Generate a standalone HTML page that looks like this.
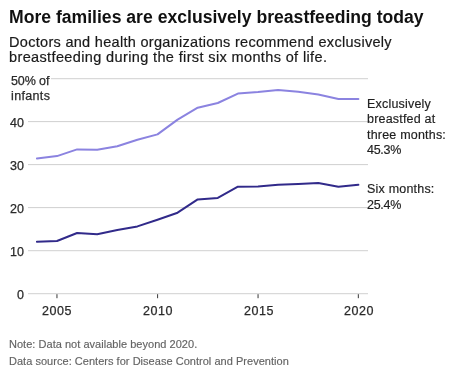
<!DOCTYPE html>
<html><head><meta charset="utf-8">
<style>
html,body{margin:0;padding:0;background:#fff;}
body{width:466px;height:373px;position:relative;overflow:hidden;font-family:"Liberation Sans",sans-serif;}
.t{position:absolute;white-space:nowrap;line-height:1;will-change:transform;}
#title{left:8.7px;top:8.7px;font-size:17.6px;font-weight:bold;color:#111;}
#sub1{left:9px;top:34.9px;font-size:14.5px;letter-spacing:0.3px;color:#1a1a1a;-webkit-text-stroke:0.2px #1a1a1a;}
#sub2{left:9px;top:49.5px;font-size:14.5px;letter-spacing:0.37px;color:#1a1a1a;-webkit-text-stroke:0.2px #1a1a1a;}
.ax{font-size:12.5px;color:#2a2a2a;-webkit-text-stroke:0.25px #2a2a2a;}
.yr{text-align:right;width:40px;}
.xc{text-align:center;width:60px;letter-spacing:0.5px;}
.lab{font-size:12.5px;color:#1f1f1f;letter-spacing:0.2px;-webkit-text-stroke:0.18px #1f1f1f;}
.pct{letter-spacing:-0.3px;}
.foot{font-size:11px;color:#636363;letter-spacing:0.03px;-webkit-text-stroke:0.15px #636363;}
svg{position:absolute;left:0;top:0;}
</style></head><body>
<div class="t" id="title">More families are exclusively breastfeeding today</div>
<div class="t" id="sub1">Doctors and health organizations recommend exclusively</div>
<div class="t" id="sub2">breastfeeding during the first six months of life.</div>

<svg width="466" height="373" viewBox="0 0 466 373">
  <g fill="#d0d0d0">
    <rect x="51" y="78.2" width="317" height="1"/>
    <rect x="28" y="121.1" width="340" height="1"/>
    <rect x="28" y="164.1" width="340" height="1"/>
    <rect x="28" y="207.1" width="340" height="1"/>
    <rect x="28" y="250.2" width="340" height="1"/>
    <rect x="28" y="293.2" width="340" height="1"/>
  </g>
  <g fill="#4a4a4a">
    <rect x="56.4" y="294.2" width="1.1" height="4"/>
    <rect x="157" y="294.2" width="1.1" height="4"/>
    <rect x="257.5" y="294.2" width="1.1" height="4"/>
    <rect x="357.8" y="294.2" width="1.1" height="4"/>
  </g>
  <polyline fill="none" stroke="#8b83e0" stroke-width="2" stroke-linejoin="round" stroke-linecap="round"
    points="36.9,158.4 57,156.1 77.1,149.4 97.2,149.8 117.3,146.2 137.4,139.8 157.5,134.4 177.6,119.6 197.7,107.7 217.8,103.0 237.9,93.6 258,92.1 278.1,89.9 298.2,91.8 318.3,94.5 338.4,98.9 358.4,99.0"/>
  <polyline fill="none" stroke="#312a8a" stroke-width="2" stroke-linejoin="round" stroke-linecap="round"
    points="36.9,241.7 57,241 77.1,233 97.2,234.3 117.3,230.1 137.4,226.4 157.5,219.7 177.6,212.7 197.7,199.4 217.8,197.9 237.9,186.7 258,186.4 278.1,184.7 298.2,183.9 318.3,182.9 338.4,186.7 358.4,184.8"/>
</svg>

<div class="t ax" id="y50a" style="left:11px;top:74.6px;letter-spacing:-0.1px;">50% of</div>
<div class="t ax" id="y50b" style="left:11px;top:89.8px;letter-spacing:0.35px;">infants</div>
<div class="t ax yr" id="y40" style="left:-16px;top:117px;">40</div>
<div class="t ax yr" id="y30" style="left:-16px;top:160px;">30</div>
<div class="t ax yr" id="y20" style="left:-16px;top:203px;">20</div>
<div class="t ax yr" id="y10" style="left:-16px;top:246px;">10</div>
<div class="t ax yr" id="y0" style="left:-16px;top:289px;">0</div>

<div class="t ax xc" id="x2005" style="left:27px;top:305.0px;">2005</div>
<div class="t ax xc" id="x2010" style="left:128.3px;top:305.0px;">2010</div>
<div class="t ax xc" id="x2015" style="left:228.5px;top:305.0px;">2015</div>
<div class="t ax xc" id="x2020" style="left:329.1px;top:304.9px;">2020</div>

<div class="t lab" id="l1" style="left:367.2px;top:98.1px;">Exclusively</div>
<div class="t lab" id="l2" style="left:367.2px;top:113.2px;">breastfed at</div>
<div class="t lab" id="l3" style="left:367.2px;top:128.5px;">three months:</div>
<div class="t lab pct" id="l4" style="left:367.2px;top:144.4px;">45.3%</div>
<div class="t lab" id="l5" style="left:366.9px;top:183.1px;">Six months:</div>
<div class="t lab pct" id="l6" style="left:366.9px;top:198.6px;">25.4%</div>

<div class="t foot" id="f1" style="left:8.5px;top:338.7px;">Note: Data not available beyond 2020.</div>
<div class="t foot" id="f2" style="left:8.5px;top:355.9px;">Data source: Centers for Disease Control and Prevention</div>
</body></html>
